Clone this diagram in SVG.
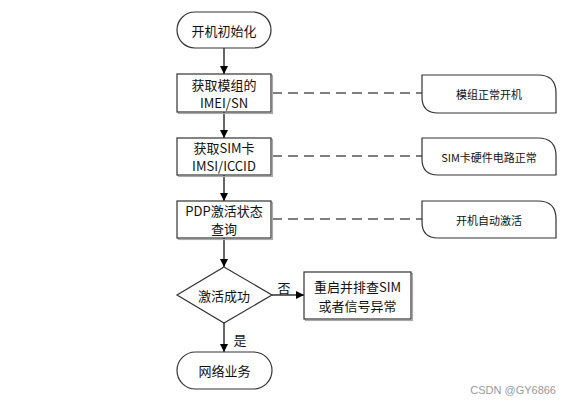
<svg xmlns="http://www.w3.org/2000/svg" width="567" height="410" viewBox="0 0 567 410">
<defs>
<marker id="arr" viewBox="0 0 10 10" refX="10" refY="5" markerWidth="8" markerHeight="8" markerUnits="userSpaceOnUse" orient="auto">
<path d="M0,0 L10,5 L0,10 z" fill="#000"/>
</marker>
</defs>
<style>
.shape{fill:#fff;stroke:#333;stroke-width:1.2}
.shadow{fill:none;stroke:#aaa;stroke-width:1.2}
.t{font-family:"Noto Sans CJK SC","Open Sans",sans-serif;font-size:13px;fill:#111;text-anchor:middle;dominant-baseline:central}
.s{font-size:11px}
.line{stroke:#000;stroke-width:1.2;fill:none}
.dash{stroke:#000;stroke-width:1.2;fill:none;stroke-dasharray:10 6}
</style>
<rect width="567" height="410" fill="#fff"/>
<g id="connectors">
<line class="line" x1="224" y1="48" x2="224" y2="74" marker-end="url(#arr)"/>
<line class="line" x1="224" y1="112" x2="224" y2="138" marker-end="url(#arr)"/>
<line class="line" x1="224" y1="175" x2="224" y2="201" marker-end="url(#arr)"/>
<line class="line" x1="224" y1="238" x2="224" y2="267" marker-end="url(#arr)"/>
<line class="line" x1="272" y1="295" x2="304" y2="295" marker-end="url(#arr)"/>
<line class="line" x1="224" y1="323" x2="224" y2="352" marker-end="url(#arr)"/>
<line class="dash" x1="272" y1="93" x2="422" y2="93"/>
<line class="dash" x1="272" y1="156" x2="422" y2="156"/>
<line class="dash" x1="272" y1="219" x2="422" y2="219"/>
<text class="t" x="284" y="287">否</text>
<text class="t" x="240" y="339">是</text>
</g>
<g id="start">
<rect class="shape" x="177" y="12" width="94" height="36" rx="18"/>
<text class="t" x="224" y="30">开机初始化</text>
</g>
<g id="box1">
<rect class="shadow" x="178.5" y="75.5" width="94" height="38"/>
<rect class="shape" x="177" y="74" width="94" height="38"/>
<text class="t" x="224" y="84">获取模组的</text>
<text class="t" x="224" y="102">IMEI/SN</text>
</g>
<g id="box2">
<rect class="shadow" x="178.5" y="139.5" width="94" height="37"/>
<rect class="shape" x="177" y="138" width="94" height="37"/>
<text class="t" x="224" y="147">获取SIM卡</text>
<text class="t" x="224" y="165">IMSI/ICCID</text>
</g>
<g id="box3">
<rect class="shadow" x="178.5" y="202.5" width="94" height="37"/>
<rect class="shape" x="177" y="201" width="94" height="37"/>
<text class="t" x="224" y="210">PDP激活状态</text>
<text class="t" x="224" y="228">查询</text>
</g>
<g id="decision">
<polygon class="shape" points="224,267 272,295 224,323 177,295"/>
<text class="t" x="224" y="295">激活成功</text>
</g>
<g id="fail">
<rect class="shadow" x="305.5" y="273.5" width="107" height="47"/>
<rect class="shape" x="304" y="272" width="107" height="47"/>
<text class="t" x="357.5" y="286">重启并排查SIM</text>
<text class="t" x="357.5" y="305">或者信号异常</text>
</g>
<g id="end">
<rect class="shape" x="177" y="352" width="95" height="37" rx="18.5"/>
<text class="t" x="224.5" y="370.5">网络业务</text>
</g>
<g id="note1">
<path class="shape" d="M422,75 H538 Q556,75 556,93 V113 H438 Q422,113 422,97 Z"/>
<text class="t s" x="489" y="94">模组正常开机</text>
</g>
<g id="note2">
<path class="shape" d="M422,138 H538 Q556,138 556,156 V175 H438 Q422,175 422,159 Z"/>
<text class="t s" x="489" y="156.5">SIM卡硬件电路正常</text>
</g>
<g id="note3">
<path class="shape" d="M422,201 H538 Q556,201 556,219 V238 H438 Q422,238 422,222 Z"/>
<text class="t s" x="489" y="219.5">开机自动激活</text>
</g>
<text x="556" y="394" font-family="'Liberation Sans',sans-serif" font-size="11" fill="#999" text-anchor="end">CSDN @GY6866</text>
</svg>
